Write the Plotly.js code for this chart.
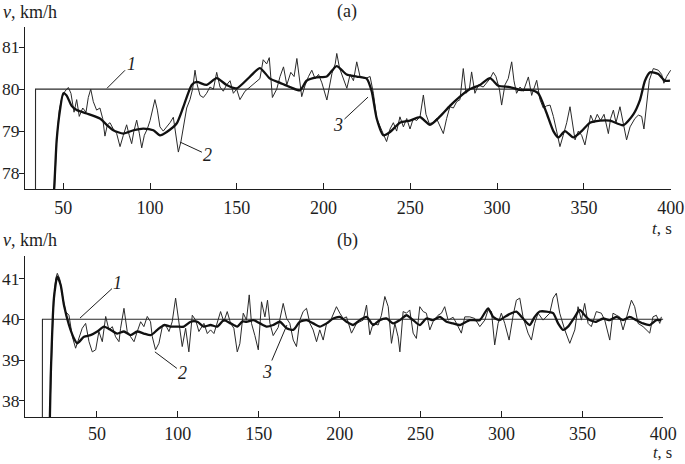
<!DOCTYPE html>
<html>
<head>
<meta charset="utf-8">
<script src="https://cdn.plot.ly/plotly-3.0.1.min.js"></script>
<style>html,body{margin:0;padding:0;background:#fff;}#chart{width:685px;height:464px;}</style>
</head>
<body>
<div id="chart"></div>
<script>
// ---------- Data ----------
var xTicks = [50, 100, 150, 200, 250, 300, 350, 400];
var topYTicks = [78, 79, 80, 81];
var botYTicks = [38, 39, 40, 41];

// Panel (a): setpoint (1), measured speed (2), filtered speed (3)
var aSetT = [33.6, 34, 400];
var aSetV = [0, 80, 80];

var aMeasT = [44.3,45.2,46.2,47.7,49.1,51.0,52.9,54.4,56.2,57.7,59.2,61.2,63.1,64.4,65.8,67.3,69.2,71.1,72.7,74.0,75.4,76.9,78.8,80.7,82.7,84.6,86.5,88.0,89.4,90.7,92.3,93.8,95.2,96.7,98.4,100.0,101.5,102.8,104.2,105.7,107.6,109.6,111.5,113.4,114.9,116.3,117.8,119.6,121.1,123.0,124.5,125.9,127.2,128.8,130.7,132.6,134.5,136.5,138.4,140.3,142.2,144.1,146.1,148.0,149.9,151.8,154.7,157.6,160.5,163.3,165.2,167.2,168.7,170.5,173.0,174.9,176.9,178.8,181.1,183.0,184.6,186.1,187.4,189.4,191.3,193.2,195.1,197.1,199.0,201.9,204.8,206.7,207.6,209.2,211.1,213.4,215.3,217.2,219.1,221.0,223.9,226.8,228.7,230.6,233.5,236.3,238.3,240.2,242.1,244.0,246.0,247.9,249.8,251.7,253.6,255.6,257.5,259.0,260.9,263.2,265.1,267.1,269.0,270.9,272.8,274.8,276.7,278.6,280.5,282.1,284.0,285.3,287.2,289.2,292.0,295.9,297.8,299.3,301.3,302.6,304.5,306.4,308.4,309.7,311.2,313.2,315.1,318.0,319.9,322.8,324.7,326.6,328.5,330.5,332.4,334.3,336.2,338.1,340.1,342.0,343.9,344.9,346.8,348.7,350.6,352.5,353.9,355.8,357.7,359.6,361.6,364.1,365.4,367.0,368.5,370.8,372.7,374.6,376.6,379.4,381.4,383.3,384.6,386.2,387.7,390.0,392.9,394.8,396.1,397.7,400.0];
var aMeasV = [77.0,78.0,78.8,79.5,79.78,79.95,80.04,79.9,79.45,79.75,79.35,79.55,79.45,79.8,80.0,79.7,79.5,79.55,79.3,78.88,79.15,79.2,79.05,78.95,78.63,78.9,79.15,78.9,78.7,79.0,79.26,78.95,78.6,78.9,79.05,79.25,79.55,79.75,79.5,79.1,79.0,79.1,79.2,79.33,78.95,78.5,78.75,79.25,79.55,79.75,80.0,80.45,80.1,79.85,79.8,79.9,80.05,80.0,80.4,80.05,79.95,80.1,80.2,79.9,80.0,79.75,79.95,80.05,80.15,80.25,80.7,80.6,80.75,79.8,80.0,80.3,80.53,80.1,80.4,80.3,80.73,80.3,79.82,80.1,80.3,80.45,80.25,80.35,80.15,79.74,80.37,80.6,80.85,80.5,80.3,80.02,80.35,80.2,80.65,80.3,80.25,80.3,79.9,79.3,79.02,78.75,79.05,79.2,79.0,79.34,79.1,79.3,79.05,79.3,79.25,79.35,79.86,79.4,79.18,79.2,79.3,79.1,78.94,79.3,79.58,79.55,79.7,79.75,80.49,79.9,80.0,80.41,79.9,80.1,80.05,80.25,80.4,80.3,80.0,79.62,80.1,80.25,80.65,80.2,79.9,80.05,79.95,80.29,79.85,80.21,79.75,79.55,79.6,79.62,79.35,79.0,78.63,78.9,79.2,79.58,79.0,78.79,79.0,78.9,78.67,79.1,79.38,79.2,79.4,79.25,79.4,78.94,79.3,79.5,79.2,79.58,79.2,78.79,79.1,79.3,79.38,79.35,79.05,79.6,80.21,80.49,80.45,80.35,80.14,80.3,80.45];

var aFiltT = [44.3,45.2,46.2,48.1,50.0,51.9,54.8,57.7,63.5,71.1,75.0,78.8,84.6,90.4,96.1,101.9,105.7,109.6,115.3,119.2,124.0,126.9,132.6,138.4,144.1,149.9,157.6,163.3,169.1,174.9,180.6,186.4,190.2,196.0,201.8,207.5,213.3,219.1,224.8,227.7,230.6,234.4,238.3,244.0,249.8,255.6,261.3,267.1,272.8,278.6,284.4,290.1,295.9,300.7,307.4,313.2,318.9,323.7,328.5,332.4,335.3,339.1,343.9,348.7,353.5,359.3,365.0,372.7,378.5,382.3,385.2,388.1,392.9,396.7,399.6];
var aFiltV = [77.3,78.0,78.79,79.5,79.9,79.85,79.6,79.5,79.42,79.3,79.15,79.02,78.94,79.02,79.06,79.02,78.9,78.98,79.18,79.58,80.1,80.17,80.1,80.26,80.1,80.02,80.3,80.5,80.25,80.15,80.05,79.97,80.2,80.28,80.3,80.55,80.35,80.3,80.25,79.95,79.3,78.9,78.98,79.2,79.25,79.33,79.15,79.35,79.6,79.82,80.0,80.1,80.26,80.08,80.05,79.98,79.98,79.9,79.43,79.0,78.85,79.0,78.85,79.0,79.2,79.25,79.25,79.14,79.4,79.74,80.2,80.4,80.36,80.2,80.2];

// Panel (b)
var bSetT = [15.9, 16.3, 400];
var bSetV = [0, 40, 40];

var bMeasT = [20.4,21.4,22.4,23.4,24.5,25.5,26.9,28.6,30.6,32.7,34.8,36.8,38.9,40.9,43.0,45.1,47.1,49.2,51.2,53.3,55.4,57.4,59.5,61.5,63.6,64.6,66.7,68.7,70.8,72.9,74.9,77.0,79.0,81.1,83.1,84.2,86.2,88.3,90.4,92.4,94.5,96.5,98.6,100.7,102.7,104.8,106.8,108.9,111.0,113.0,116.1,118.2,120.2,122.3,124.3,126.4,128.4,130.5,132.6,134.6,136.7,138.3,140.4,142.4,144.1,145.5,147.6,149.7,151.7,153.8,155.4,156.9,158.9,162.0,165.1,167.2,169.2,171.3,173.3,175.4,177.4,179.5,181.6,183.6,185.7,187.7,189.8,191.9,194.9,198.0,200.1,202.2,204.2,207.3,210.4,214.5,216.6,218.6,220.7,223.8,225.8,227.9,230.0,232.0,234.1,236.1,237.2,239.2,241.3,243.3,245.4,247.4,249.5,251.6,253.6,255.7,257.7,260.8,262.9,264.9,267.0,270.1,272.2,275.2,277.3,280.4,283.5,286.6,289.7,291.7,293.8,295.8,297.9,299.9,302.0,304.7,307.2,309.2,311.3,313.3,316.4,318.5,320.5,322.6,325.7,329.8,331.9,333.9,336.0,339.1,342.2,345.3,347.3,349.4,351.4,353.5,355.5,358.6,361.7,363.8,366.9,368.9,371.0,373.0,375.1,377.2,380.3,382.3,384.4,387.5,391.6,393.6,395.7,397.8,398.8];
var bMeasV = [37.0,38.55,39.6,40.52,41.0,41.13,41.0,40.6,40.19,40.1,39.57,39.29,39.57,39.78,39.9,39.45,39.2,39.25,39.7,39.45,40.07,39.74,39.82,39.57,39.45,39.78,40.27,39.7,39.57,39.45,39.7,39.94,39.82,40.07,39.94,39.57,39.25,39.41,39.82,39.86,39.7,39.94,40.52,39.94,39.33,39.78,39.2,40.1,39.98,39.7,39.9,39.65,39.74,39.65,39.9,40.19,39.94,40.19,39.9,39.78,39.2,39.4,40.15,39.98,40.6,39.9,39.6,39.25,40.43,40.06,40.47,39.9,39.6,39.8,40.39,40.02,39.9,39.49,39.33,39.98,40.19,40.27,39.9,39.74,39.45,39.74,39.49,39.9,40.02,40.31,40.15,40.02,40.06,39.66,39.9,39.98,40.35,39.62,39.9,39.86,40.1,40.56,40.31,39.41,39.9,39.57,39.2,40.19,40.15,40.23,39.66,39.53,40.31,40.19,40.15,39.74,39.94,40.1,40.15,40.31,39.98,40.05,39.9,39.66,40.06,40.06,40.02,39.82,39.98,40.23,40.19,39.37,39.9,40.15,39.9,39.49,40.1,40.47,40.52,40.06,39.66,39.49,39.9,40.15,39.98,40.15,40.52,40.64,40.15,39.74,39.41,39.74,40.31,39.98,40.39,39.9,39.82,40.19,40.15,39.98,39.49,40.15,40.1,40.06,39.74,40.02,40.47,40.31,39.9,39.82,39.66,40.06,40.1,39.9,40.06];

var bFiltT = [20.6,21.4,23.4,25.5,27.6,29.6,32.7,35.8,37.8,42.0,46.0,50.2,54.3,58.4,62.5,66.7,70.8,74.9,79.0,83.2,87.3,91.4,95.5,99.6,103.7,107.9,112.0,116.0,120.2,124.3,128.4,132.6,136.7,140.0,142.4,146.6,150.7,154.8,158.9,163.0,167.2,171.3,175.4,179.5,183.6,187.7,191.9,196.0,200.1,204.2,208.3,212.4,216.6,220.7,224.8,228.9,233.0,237.2,241.3,245.4,249.5,253.6,257.7,261.9,266.0,270.1,274.2,280.4,286.6,291.7,294.8,298.9,302.0,306.1,309.2,313.3,317.4,320.5,323.6,327.7,331.9,335.0,338.0,341.1,345.3,348.3,351.4,354.5,358.6,362.8,366.9,371.0,375.1,379.2,383.3,387.5,391.6,395.7,398.8];
var bFiltV = [37.0,38.55,40.52,41.05,40.84,40.35,39.86,39.53,39.41,39.57,39.61,39.7,39.82,39.74,39.65,39.7,39.61,39.7,39.65,39.61,39.74,39.86,39.82,39.82,39.82,39.94,39.94,39.82,39.86,39.82,39.98,39.9,39.82,39.95,39.94,39.98,39.9,39.82,39.86,39.94,39.78,39.74,39.94,39.98,39.9,39.82,39.9,40.02,40.06,39.94,39.86,39.98,40.06,39.86,39.98,40.02,39.9,39.98,40.1,39.98,39.86,40.02,39.98,40.06,39.94,39.9,39.86,39.98,39.98,40.27,40.06,39.98,40.06,40.15,40.19,40.02,39.86,40.06,40.19,40.19,40.15,39.9,39.74,39.82,40.06,40.23,40.1,39.98,39.94,40.02,39.98,40.06,39.98,40.06,39.98,39.9,39.86,39.98,39.98];

// ---------- Styling ----------
var serif = 'Liberation Serif, Times New Roman, serif';
var ink = '#1e1e1e';
var fs = 18;
var thin = {color: '#2a2a2a', width: 1};
var thick = {color: '#111111', width: 2.3, shape: 'spline', smoothing: 0.6};
var setLine = {color: '#2a2a2a', width: 1.1};

var traces = [
  {x: aSetT, y: aSetV, xaxis: 'x', yaxis: 'y', mode: 'lines', line: setLine, hoverinfo: 'skip'},
  {x: aMeasT, y: aMeasV, xaxis: 'x', yaxis: 'y', mode: 'lines', line: thin, hoverinfo: 'skip'},
  {x: aFiltT, y: aFiltV, xaxis: 'x', yaxis: 'y', mode: 'lines', line: thick, hoverinfo: 'skip'},
  {x: bSetT, y: bSetV, xaxis: 'x2', yaxis: 'y2', mode: 'lines', line: setLine, hoverinfo: 'skip'},
  {x: bMeasT, y: bMeasV, xaxis: 'x2', yaxis: 'y2', mode: 'lines', line: thin, hoverinfo: 'skip'},
  {x: bFiltT, y: bFiltV, xaxis: 'x2', yaxis: 'y2', mode: 'lines', line: thick, hoverinfo: 'skip'}
];

function xAx(dom, rng, anchor, so) {
  return {domain: dom, range: rng, anchor: anchor, tickvals: xTicks, ticks: 'inside', ticklen: 6,
    tickcolor: ink, showline: true, linecolor: ink, linewidth: 1, showgrid: false, zeroline: false,
    ticklabelstandoff: so,
    tickfont: {family: serif, size: fs, color: ink}, fixedrange: true};
}
function yAx(dom, rng, anchor, tv) {
  return {domain: dom, range: rng, anchor: anchor, tickvals: tv, ticks: 'outside', ticklen: 5,
    tickcolor: ink, showline: true, linecolor: ink, linewidth: 1, showgrid: false, zeroline: false,
    ticklabelstandoff: -4,
    tickfont: {family: serif, size: 17.5, color: ink}, fixedrange: true};
}

function lbl(txt, x, y, xa, ya, size) {
  return {text: txt, xref: 'paper', yref: 'paper', x: x, y: y, xanchor: xa, yanchor: ya || 'middle',
    showarrow: false, borderpad: 0, font: {family: serif, size: size || fs, color: ink}};
}
function num(txt, xr, yr, x, y, ax, ay) {
  return {text: '<i>' + txt + '</i>', xref: xr, yref: yr, x: x, y: y, ax: ax, ay: ay,
    showarrow: true, arrowhead: 0, arrowwidth: 1, arrowcolor: ink, standoff: 0,
    font: {family: serif, size: fs, color: ink}};
}

var layout = {
  width: 685, height: 464,
  margin: {l: 25, r: 14, t: 27, b: 47},
  paper_bgcolor: '#ffffff', plot_bgcolor: '#ffffff',
  showlegend: false,
  xaxis: xAx([0, 1], [27.93, 400.2], 'y', 2),
  yaxis: yAx([0.5846, 1], [77.62, 81.48], 'x', topYTicks),
  xaxis2: xAx([0, 0.9881], [5.53, 400], 'y2', 0),
  yaxis2: yAx([0, 0.4128], [37.6, 41.555], 'x2', botYTicks),
  annotations: [
    lbl('<i>v</i>, km/h', -0.0356, 1.0385, 'left'),
    lbl('(a)', 0.4985, 1.0385, 'center'),
    lbl('<i>t</i>, s', 1.0031, 0.4846, 'right', 'middle', 17),
    lbl('<i>v</i>, km/h', -0.0356, 0.4538, 'left'),
    lbl('(b)', 0.4985, 0.4538, 'center'),
    lbl('<i>t</i>, s', 1.0031, -0.1185, 'right', 'bottom', 16.5),
    num('1', 'x', 'y', 75.2, 80.02, 24, -24),
    num('2', 'x', 'y', 117.2, 78.74, 28, 13),
    num('3', 'x', 'y', 225.6, 79.81, -30, 28),
    num('1', 'x2', 'y2', 39.5, 40.03, 38, -35),
    num('2', 'x2', 'y2', 85.8, 39.2, 28, 21),
    num('3', 'x2', 'y2', 167.4, 39.86, -20, 47)
  ]
};

Plotly.newPlot('chart', traces, layout, {staticPlot: true, displayModeBar: false});
</script>
</body>
</html>
